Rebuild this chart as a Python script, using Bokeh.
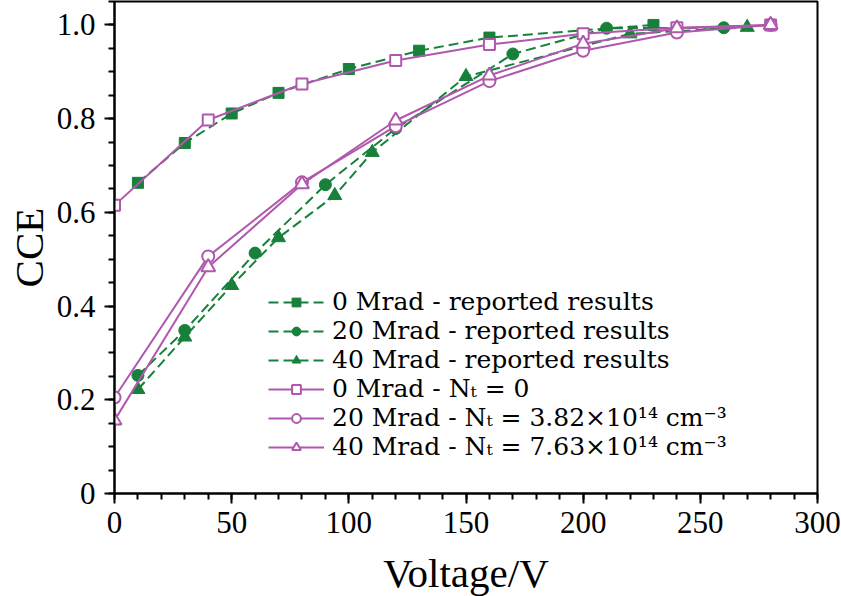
from bokeh.plotting import figure
from bokeh.models import (FixedTicker, Legend, LegendItem, LinearAxis, Range1d)
from bokeh.embed import file_html
from bokeh.resources import INLINE

# ---- data ----
sq_rep_v = [10, 30, 50, 70, 100, 130, 160, 230]
sq_rep_cce = [0.663, 0.748, 0.811, 0.855, 0.906, 0.945, 0.973, 1.0]

ci_rep_v = [10, 30, 60, 90, 120, 170, 210, 260]
ci_rep_cce = [0.252, 0.348, 0.513, 0.659, 0.779, 0.938, 0.993, 0.994]

tr_rep_v = [10, 30, 50, 70, 94, 110, 150, 220, 270]
tr_rep_cce = [0.222, 0.334, 0.444, 0.546, 0.636, 0.728, 0.890, 0.981, 0.995]

sim_v = [0, 40, 80, 120, 160, 200, 240, 280]
sim0_cce = [0.615, 0.797, 0.874, 0.924, 0.958, 0.981, 0.994, 1.0]
sim20_cce = [0.205, 0.506, 0.664, 0.784, 0.880, 0.945, 0.984, 1.0]
sim40_cce = [0.156, 0.483, 0.660, 0.796, 0.892, 0.960, 0.993, 1.0]

labels = [
    "0 Mrad - reported results",
    "20 Mrad - reported results",
    "40 Mrad - reported results",
    "0 Mrad - N\u209c = 0",
    "20 Mrad - N\u209c = 3.82\u00d710\u00b9\u2074 cm\u207b\u00b3",
    "40 Mrad - N\u209c = 7.63\u00d710\u00b9\u2074 cm\u207b\u00b3",
]
x_ticks = [0, 50, 100, 150, 200, 250, 300]
y_ticks = [0, 0.2, 0.4, 0.6, 0.8, 1.0]

GREEN = "#17803a"
PINK = "#b058ad"
FONT = "Liberation Serif"
LEG_FONT = "DejaVu Serif"

p = figure(width=841, height=596, output_backend="svg", toolbar_location=None,
           x_range=Range1d(0, 300), y_range=Range1d(0, 1.05),
           frame_width=703, frame_height=492,
           min_border_left=114, min_border_right=24, min_border_top=1,
           min_border_bottom=103, x_axis_location=None, y_axis_location=None)
p.background_fill_color = "white"
p.border_fill_color = "white"
p.grid.visible = False
p.outline_line_color = "black"
p.outline_line_width = 2

xa = LinearAxis(axis_label="Voltage/V")
ya = LinearAxis(axis_label="CCE")
p.add_layout(xa, "below")
p.add_layout(ya, "left")

xa.ticker = FixedTicker(ticks=x_ticks, minor_ticks=list(range(0, 301, 10)))
ya.ticker = FixedTicker(ticks=y_ticks, minor_ticks=[i * 0.05 for i in range(0, 22)])
ya.major_label_overrides = {0: "0", 0.2: "0.2", 0.4: "0.4", 0.6: "0.6", 0.8: "0.8", 1.0: "1.0"}

for ax in (xa, ya):
    ax.axis_line_width = 2
    ax.axis_line_color = "black"
    ax.major_tick_in = 0
    ax.major_tick_out = 10
    ax.minor_tick_in = 0
    ax.minor_tick_out = 6
    ax.major_tick_line_width = 2
    ax.minor_tick_line_width = 2
    ax.major_label_text_font = FONT
    ax.major_label_text_font_size = "31px"
    ax.major_label_text_color = "black"
    ax.axis_label_text_font = FONT
    ax.axis_label_text_font_size = "41px"
    ax.axis_label_text_font_style = "normal"
    ax.axis_label_text_color = "black"
xa.major_label_standoff = 8
xa.axis_label_standoff = 14
ya.major_label_standoff = 9
ya.axis_label_standoff = 2

items = []

def rep(vs, cs, marker, size, lab):
    l = p.line(vs, cs, line_color=GREEN, line_width=2, line_dash="10 5")
    s = p.scatter(vs, cs, marker=marker, size=size, fill_color=GREEN, line_color=GREEN)
    items.append(LegendItem(label=lab, renderers=[l, s]))

def sim(vs, cs, marker, size, lab):
    l = p.line(vs, cs, line_color=PINK, line_width=2)
    s = p.scatter(vs, cs, marker=marker, size=size, fill_color="white", line_color=PINK,
                  line_width=2)
    items.append(LegendItem(label=lab, renderers=[l, s]))

rep(sq_rep_v, sq_rep_cce, "square", 11, labels[0])
rep(ci_rep_v, ci_rep_cce, "circle", 12, labels[1])
rep(tr_rep_v, tr_rep_cce, "triangle", 14, labels[2])
sim(sim_v, sim0_cce, "square", 11, labels[3])
sim(sim_v, sim20_cce, "circle", 12, labels[4])
sim(sim_v, sim40_cce, "triangle", 14, labels[5])

leg = Legend(items=items, location=(154, 32))
leg.background_fill_alpha = 0
leg.border_line_alpha = 0
leg.label_text_font = LEG_FONT
leg.label_text_font_size = "25px"
leg.label_text_color = "black"
leg.glyph_width = 56
leg.glyph_height = 22
leg.label_height = 22
leg.spacing = 0
leg.padding = 0
leg.margin = 0
leg.label_standoff = 8
p.add_layout(leg, "center")

open("out.html", "w").write(file_html(p, INLINE))
